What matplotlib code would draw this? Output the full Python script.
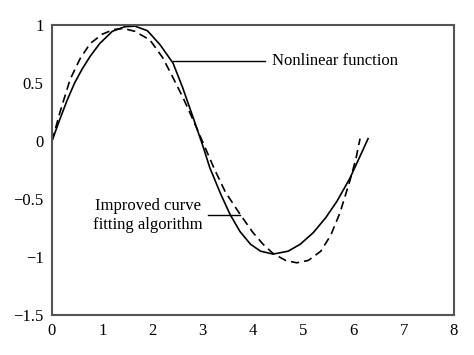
import matplotlib
matplotlib.use("Agg")
import matplotlib.pyplot as plt

# points
solid_x = [0.0, 0.15, 0.3, 0.45, 0.6, 0.76, 0.95, 1.2, 1.45, 1.65, 1.9, 2.15, 2.41, 2.6, 2.81,
           3.0, 3.14, 3.35, 3.54, 3.74, 3.95, 4.15, 4.4, 4.7, 4.94, 5.2, 5.45, 5.67, 5.93, 6.1, 6.29]
solid_y = [0.0, 0.18, 0.35, 0.50, 0.62, 0.73, 0.84, 0.945, 0.985, 0.99, 0.95, 0.83, 0.67, 0.46, 0.20,
           -0.04, -0.23, -0.45, -0.63, -0.78, -0.89, -0.95, -0.975, -0.95, -0.89, -0.79, -0.66, -0.52, -0.32, -0.16, 0.02]

dashed_x = [0.0, 0.16, 0.36, 0.56, 0.76, 1.0, 1.22, 1.42, 1.65, 1.95, 2.2, 2.38, 2.6, 2.81, 3.0,
            3.24, 3.45, 3.74, 4.0, 4.2, 4.4, 4.65, 4.87, 5.1, 5.35, 5.55, 5.73, 5.93, 6.05, 6.13]
dashed_y = [0.0, 0.25, 0.53, 0.71, 0.84, 0.92, 0.96, 0.97, 0.945, 0.87, 0.72, 0.57, 0.38, 0.18, -0.01,
            -0.25, -0.44, -0.63, -0.79, -0.89, -0.97, -1.03, -1.05, -1.03, -0.95, -0.81, -0.62, -0.34, -0.15, 0.02]

xticks = [0, 1, 2, 3, 4, 5, 6, 7, 8]
yticks = [-1.5, -1, -0.5, 0, 0.5, 1]
ytick_labels = ["\u22121.5", "\u22121", "\u22120.5", "0", "0.5", "1"]

plt.rcParams["font.family"] = ["Liberation Serif", "DejaVu Serif"]

fig = plt.figure(figsize=(4.74, 3.55), dpi=100)
ax = fig.add_axes([0.1097, 0.1127, 0.8481, 0.817])

ax.plot(solid_x, solid_y, color="black", linewidth=1.2, solid_joinstyle="round")
ax.plot(dashed_x, dashed_y, color="black", linewidth=1.2, linestyle=(0, (5, 3)))

# annotation leaders
ax.plot([2.41, 4.24], [0.69, 0.69], color="black", linewidth=1.0)
ax.text(4.38, 0.69, "Nonlinear function", fontsize=12, va="center", ha="left")
ax.plot([3.10, 3.74], [-0.64, -0.64], color="black", linewidth=1.0)
ax.text(1.91, -0.64, "Improved curve\nfitting algorithm", fontsize=12, va="center", ha="center",
        linespacing=1.25)

ax.set_xlim(0, 8)
ax.set_ylim(-1.5, 1)
ax.set_xticks(xticks)
ax.set_yticks(yticks)
ax.set_yticklabels(ytick_labels)
ax.tick_params(length=0, labelsize=12, pad=6)
for s in ax.spines.values():
    s.set_color("#555555")
    s.set_linewidth(1.5)

fig.savefig("out.png", dpi=100)
